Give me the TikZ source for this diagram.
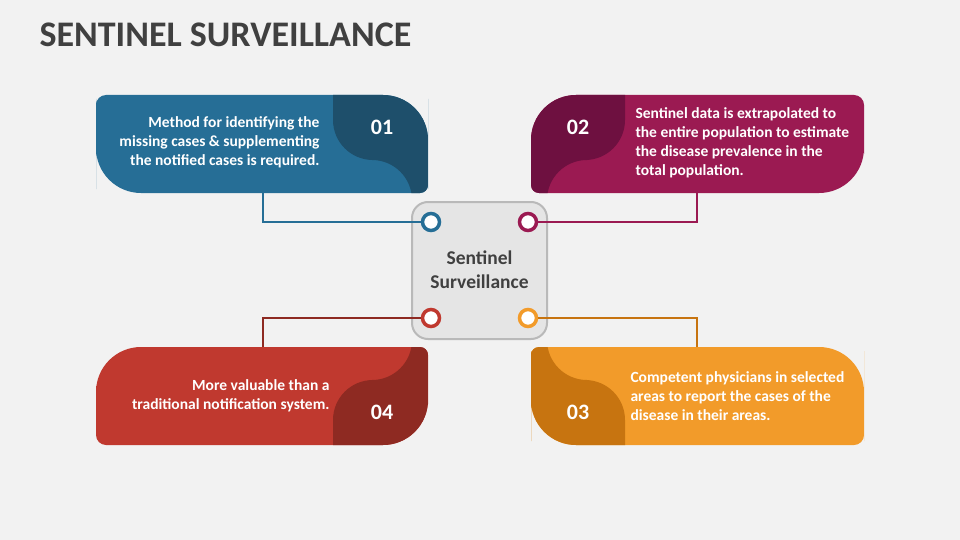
\documentclass[tikz,border=0pt]{standalone}
\usepackage{fontspec}
\setmainfont{Carlito}
\usetikzlibrary{positioning}

\definecolor{bgc}{HTML}{F2F2F2}
\definecolor{titlec}{HTML}{404040}
\definecolor{blueA}{HTML}{266E96}
\definecolor{blueB}{HTML}{1E4F6B}
\definecolor{magA}{HTML}{9B1A52}
\definecolor{magB}{HTML}{6E1040}
\definecolor{oraA}{HTML}{F29B2A}
\definecolor{oraB}{HTML}{C77410}
\definecolor{redA}{HTML}{C0392F}
\definecolor{redB}{HTML}{8E2A22}

% card outline: x0 y0 x1 y1, radii TL TR BR BL
\newcommand{\cardpath}[8]{(#1,{(#2+#4)/2}) [rounded corners=#5pt] |- ({(#1+#3)/2},#2) [rounded corners=#6pt] -| (#3,{(#2+#4)/2}) [rounded corners=#7pt] |- ({(#1+#3)/2},#4) [rounded corners=#8pt] -| (#1,{(#2+#4)/2}) -- cycle}

\begin{document}
\begin{tikzpicture}[x=1pt,y=-1pt,
    cardtext/.style={font=\bfseries\fontsize{15.5}{19}\selectfont, text=white},
    number/.style={font=\bfseries\fontsize{22}{24}\selectfont, text=white},
    link/.style={line width=1.6pt},
    ring/.style={circle, line width=3.5pt, fill=white, minimum size=17pt, inner sep=0pt}
]
\useasboundingbox[fill=bgc] (0,0) rectangle (960,540);

% Title
\node[anchor=west, font=\bfseries\fontsize{36}{40}\selectfont, text=titlec] (title) at (36,35) {SENTINEL SURVEILLANCE};

% Card 1
\fill[blueA] \cardpath{96}{95}{428}{193}{10}{45}{8}{45};
\begin{scope}
\clip \cardpath{96}{95}{428}{193}{10}{45}{8}{45};
\fill[blueB] (333,95) [rounded corners=40pt] |- (412,160) [sharp corners] -- (412,193) -- (428,193) -- (428,95) -- cycle;
\end{scope}
\node[number] (n1) at (382,127) {01};
\node[cardtext, align=right, anchor=east] (t1) at (323,142) {Method for identifying the\\missing cases \& supplementing\\the notified cases is required.};

% Card 2
\fill[magA] \cardpath{531}{95}{864}{193}{45}{10}{45}{8};
\begin{scope}
\clip \cardpath{531}{95}{864}{193}{45}{10}{45}{8};
\fill[magB] (625,95) [rounded corners=40pt] |- (547,160) [sharp corners] -- (547,193) -- (531,193) -- (531,95) -- cycle;
\end{scope}
\node[number] (n2) at (578,127) {02};
\node[cardtext, align=left, anchor=west] (t2) at (632,143) {Sentinel data is extrapolated to\\the entire population to estimate\\the disease prevalence in the\\total population.};

% Card 3
\fill[oraA] \cardpath{531}{347}{864}{445}{8}{45}{10}{45};
\begin{scope}
\clip \cardpath{531}{347}{864}{445}{8}{45}{10}{45};
\fill[oraB] (625,445) [rounded corners=40pt] |- (547,380) [sharp corners] -- (547,347) -- (531,347) -- (531,445) -- cycle;
\end{scope}
\node[number] (n3) at (578,412) {03};
\node[cardtext, align=left, anchor=west] (t3) at (627,396) {Competent physicians in selected\\areas to report the cases of the\\disease in their areas.};

% Card 4
\fill[redA] \cardpath{96}{347}{428}{445}{45}{8}{45}{10};
\begin{scope}
\clip \cardpath{96}{347}{428}{445}{45}{8}{45}{10};
\fill[redB] (333,445) [rounded corners=40pt] |- (412,380) [sharp corners] -- (412,347) -- (428,347) -- (428,445) -- cycle;
\end{scope}
\node[number] (n4) at (382,412) {04};
\node[cardtext, align=right, anchor=east] (t4) at (333,396) {More valuable than a\\traditional notification system.};

% Centre
\node[draw=gray!55, line width=2pt, fill=gray!20, rounded corners=16pt, minimum width=135pt, minimum height=137pt] (hub) at (479.5,270.5) {};
\node[font=\bfseries\fontsize{19.5}{24}\selectfont, text=titlec, align=center] (hubtext) at (479.5,270) {Sentinel\\Surveillance};

\node[ring, draw=blueA] (r1) at (431,222) {};
\node[ring, draw=magA] (r2) at (528,222) {};
\node[ring, draw=oraA] (r3) at (528,318) {};
\node[ring, draw=redA] (r4) at (431,318) {};

\coordinate (c1) at (263,193);
\coordinate (c2) at (697,193);
\coordinate (c3) at (697,347);
\coordinate (c4) at (263,347);

% Connections
\draw[link, blueA] (c1) |- (r1.west);
\draw[link, magA] (c2) |- (r2.east);
\draw[link, oraB] (c3) |- (r3.east);
\draw[link, redB] (c4) |- (r4.west);

\end{tikzpicture}
\end{document}
